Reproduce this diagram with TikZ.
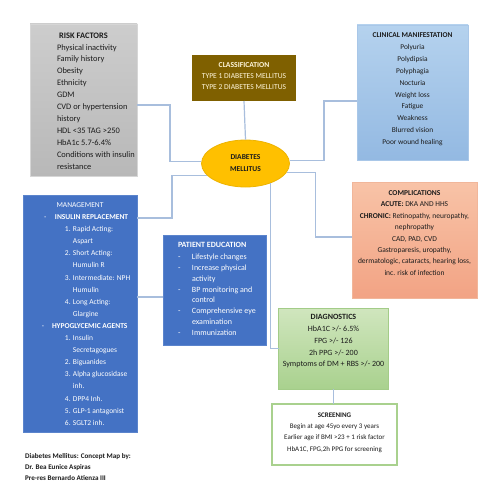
\documentclass[tikz,border=0pt]{standalone}
\usepackage{fontspec}
\setmainfont{Carlito}
\usetikzlibrary{shapes.geometric,calc}
\definecolor{conn}{HTML}{A8BEDD}
\definecolor{riskA}{HTML}{CDCDCD}
\definecolor{riskB}{HTML}{B8B8B8}
\definecolor{riskD}{HTML}{D6D6D6}
\definecolor{classF}{HTML}{7F6000}
\definecolor{classT}{HTML}{FFF6DA}
\definecolor{clinA}{HTML}{B5D2EE}
\definecolor{clinB}{HTML}{93B9E2}
\definecolor{clinD}{HTML}{A9C7E8}
\definecolor{ellF}{HTML}{FFC000}
\definecolor{ellD}{HTML}{EDB300}
\definecolor{compA}{HTML}{F8C3A7}
\definecolor{compB}{HTML}{F2A384}
\definecolor{compD}{HTML}{F1B69A}
\definecolor{mgF}{HTML}{4472C4}
\definecolor{mgD}{HTML}{5B84CC}
\definecolor{diagA}{HTML}{D0E6BE}
\definecolor{diagB}{HTML}{A9D18E}
\definecolor{diagD}{HTML}{A3CC88}
\definecolor{scrD}{HTML}{A9D18E}
\definecolor{txt}{HTML}{1C1C1C}
\newcommand\fs[2]{\fontsize{#1}{#2}\selectfont}
\newcommand\tbox[4]{\parbox[c][#2pt][t]{#1pt}{#4\par}}
\begin{document}
\begin{tikzpicture}[x=1pt,y=-1pt,
  box/.style={rectangle, inner sep=0pt, outer sep=0pt, line width=0.6pt},
  link/.style={draw=conn, line width=1.2pt}]
\useasboundingbox (0,0) rectangle (495,495);
\fill[white] (0,0) rectangle (495,495);

% RISK FACTORS
\node[box, top color=riskA, bottom color=riskB, draw=riskD] (risk) at (83.5,100)
 {\tbox{107}{152}{}{\fs{8.4}{11.9}\color{txt}\vspace*{8.6pt}\centering\textbf{RISK FACTORS}\par
  \raggedright\leftskip=27pt Physical inactivity\\Family history\\Obesity\\Ethnicity\\GDM\\CVD or hypertension\\history\\HDL <35 TAG >250\\HbA1c 5.7-6.4\%\\Conditions with insulin\\resistance}};

% CLASSIFICATION
\node[box, fill=classF] (class) at (244,78)
 {\tbox{104}{46}{}{\fs{7.6}{11}\color{classT}\vspace*{7.6pt}\centering\textbf{CLASSIFICATION}\\TYPE 1 DIABETES MELLITUS\\TYPE 2 DIABETES MELLITUS}};

% CLINICAL MANIFESTATION
\node[box, top color=clinA, bottom color=clinB, draw=clinD] (clin) at (412.5,92.5)
 {\tbox{111}{135}{}{\fs{7.4}{11.9}\color{txt}\vspace*{7.7pt}\centering\textbf{CLINICAL MANIFESTATION}\\Polyuria\\Polydipsia\\Polyphagia\\Nocturia\\Weight loss\\Fatigue\\Weakness\\Blurred vision\\Poor wound healing}};

% DIABETES MELLITUS
\node[ellipse, fill=ellF, draw=ellD, line width=0.8pt, minimum width=88pt, minimum height=47pt, inner sep=0pt, align=center, font=\fs{7.5}{12}\bfseries, text=txt] (ell) at (245.5,163.5) {DIABETES\\MELLITUS};

% COMPLICATIONS
\node[box, top color=compA, bottom color=compB, draw=compD] (comp) at (414.5,240)
 {\tbox{125}{116}{}{\fs{7.5}{11.4}\color{txt}\vspace*{8.6pt}\centering\textbf{COMPLICATIONS}\\\textbf{ACUTE:} DKA AND HHS\\\textbf{CHRONIC:} Retinopathy, neuropathy,\\nephropathy\\CAD, PAD, CVD\\Gastroparesis, uropathy,\\dermatologic, cataracts, hearing loss,\\inc. risk of infection}};

% MANAGEMENT
\node[box, fill=mgF, draw=mgD] (mgmt) at (80,313.5)
 {\tbox{114}{237}{}{\fs{7.5}{12.1}\color{white}\vspace*{7.6pt}\centering MANAGEMENT\par\raggedright
  \hspace*{21pt}\makebox[11pt][l]{-}\textbf{INSULIN REPLACEMENT}\\
  \hspace*{42pt}\makebox[8pt][l]{1.}Rapid Acting:\\
  \hspace*{50pt}Aspart\\
  \hspace*{42pt}\makebox[8pt][l]{2.}Short Acting:\\
  \hspace*{50pt}Humulin R\\
  \hspace*{42pt}\makebox[8pt][l]{3.}Intermediate: NPH\\
  \hspace*{50pt}Humulin\\
  \hspace*{42pt}\makebox[8pt][l]{4.}Long Acting:\\
  \hspace*{50pt}Glargine\\
  \hspace*{19pt}\makebox[10pt][l]{-}\textbf{HYPOGLYCEMIC AGENTS}\\
  \hspace*{42pt}\makebox[8pt][l]{1.}Insulin\\
  \hspace*{50pt}Secretagogues\\
  \hspace*{42pt}\makebox[8pt][l]{2.}Biguanides\\
  \hspace*{42pt}\makebox[8pt][l]{3.}Alpha glucosidase\\
  \hspace*{50pt}inh.\\
  \hspace*{42pt}\makebox[8pt][l]{4.}DPP4 Inh.\\
  \hspace*{42pt}\makebox[8pt][l]{5.}GLP-1 antagonist\\
  \hspace*{42pt}\makebox[8pt][l]{6.}SGLT2 inh.}};

% PATIENT EDUCATION
\node[box, fill=mgF, draw=mgD] (pat) at (214.5,290)
 {\tbox{103}{110}{}{\fs{8}{10.8}\color{white}\raggedright\vspace*{7.4pt}\hspace*{15pt}\textbf{PATIENT EDUCATION}\\[1.2pt]
  \hspace*{15pt}\makebox[14pt][l]{-}Lifestyle changes\\
  \hspace*{15pt}\makebox[14pt][l]{-}Increase physical\\
  \hspace*{29pt}activity\\
  \hspace*{15pt}\makebox[14pt][l]{-}BP monitoring and\\
  \hspace*{29pt}control\\
  \hspace*{15pt}\makebox[14pt][l]{-}Comprehensive eye\\
  \hspace*{29pt}examination\\
  \hspace*{15pt}\makebox[14pt][l]{-}Immunization}};

% DIAGNOSTICS
\node[box, top color=diagA, bottom color=diagB, draw=diagD] (diag) at (333.5,348.5)
 {\tbox{110}{81}{}{\fs{8}{11.8}\color{txt}\vspace*{6.4pt}\centering\textbf{DIAGNOSTICS}\\HbA1C >/- 6.5\%\\FPG >/- 126\\2h PPG >/- 200\\Symptoms of DM + RBS >/- 200}};

% SCREENING
\node[box, fill=white, draw=scrD, line width=1.4pt] (scr) at (334.5,434.5)
 {\tbox{125}{61}{}{\fs{7}{11.3}\color{txt}\vspace*{8.8pt}\centering\textbf{SCREENING}\\Begin at age 45yo every 3 years\\Earlier age if BMI >23 + 1 risk factor\\HbA1C, FPG,2h PPG for screening}};

% footer
\node[anchor=north west, inner sep=0pt, align=left, font=\fs{7.1}{11}\bfseries, text=txt] (foot) at (25,453)
 {Diabetes Mellitus: Concept Map by:\\Dr. Bea Eunice Aspiras\\Pre-res Bernardo Atienza III};

% connectors
\draw[link] ([yshift=-5pt]risk.east) -- ++(33,0) |- (ell.177);
\draw[link] ([yshift=95.5pt]mgmt.east) -- ++(35,0) |- (ell.198);
\draw[link] (class.south) -- (ell.north);
\draw[link] ([yshift=-8.5pt]clin.west) -- ++(-33,0) |- (ell.4);
\draw[link] (ell.-12) -- ++(29,0) |- ([yshift=3pt]comp.west);
\draw[link] (ell.-38) |- (diag.west);
\draw[link] ([yshift=-7pt]pat.west) -- ([yshift=-7pt]pat.west -| mgmt.east);
\draw[link] (diag.south) -- (diag.south |- scr.north);
\end{tikzpicture}
\end{document}
